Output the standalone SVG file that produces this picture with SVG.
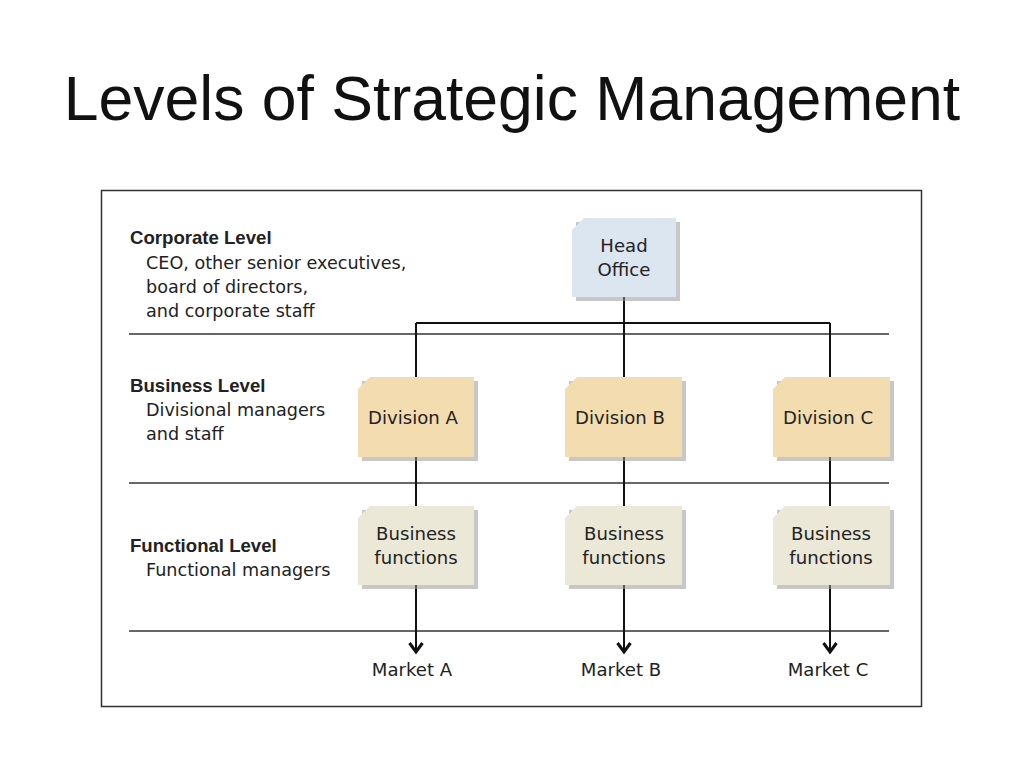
<svg xmlns="http://www.w3.org/2000/svg" width="1024" height="768" viewBox="0 0 1024 768">
<defs>
<style>
.lbl{font-family:"DejaVu Sans","Liberation Sans",Arial,sans-serif;font-size:17.6px;fill:#222}
.b{font-family:"Liberation Sans",Arial,sans-serif;font-weight:bold;font-size:18.6px}
.nt{font-family:"DejaVu Sans","Liberation Sans",Arial,sans-serif;font-size:18.1px;fill:#222;text-anchor:middle}
.ln{stroke:#333;stroke-width:1.5;fill:none}
.cn{stroke:#111;stroke-width:2;fill:none}
.sh{fill:#999;opacity:0.55}
</style>
<marker id="ar" viewBox="0 0 16 16" refX="12" refY="8" markerWidth="16" markerHeight="16" markerUnits="userSpaceOnUse" orient="auto">
<path d="M3,1.5 L12,8 L3,14.5" fill="none" stroke="#111" stroke-width="3"/>
</marker>
</defs>
<rect width="1024" height="768" fill="#fff"/>
<text x="512" y="120" font-family="Liberation Sans,Arial,sans-serif" font-size="62.5" text-anchor="middle" fill="#111">Levels of Strategic Management</text>
<rect x="101.5" y="190.5" width="820" height="516" fill="#fff" stroke="#333" stroke-width="1.5"/>
<g id="dividers">
<line class="ln" x1="129" y1="334" x2="889" y2="334"/>
<line class="ln" x1="129" y1="483" x2="889" y2="483"/>
<line class="ln" x1="129" y1="631" x2="889" y2="631"/>
</g>
<g id="levels">
<text class="lbl b" x="130" y="244">Corporate Level</text>
<text class="lbl" x="146" y="269">CEO, other senior executives,</text>
<text class="lbl" x="146" y="293">board of directors,</text>
<text class="lbl" x="146" y="317">and corporate staff</text>
<text class="lbl b" x="130" y="392">Business Level</text>
<text class="lbl" x="146" y="416">Divisional managers</text>
<text class="lbl" x="146" y="440">and staff</text>
<text class="lbl b" x="130" y="552">Functional Level</text>
<text class="lbl" x="146" y="576">Functional managers</text>
</g>
<g id="connectors">
<path class="cn" d="M624,297 V323 M416,323 H830 M416,323 V377 M624,323 V377 M830,323 V377"/>
<path class="cn" d="M416,457 V506 M624,457 V506 M830,457 V506"/>
<path class="cn" d="M416,585 V652" marker-end="url(#ar)"/>
<path class="cn" d="M624,585 V652" marker-end="url(#ar)"/>
<path class="cn" d="M830,585 V652" marker-end="url(#ar)"/>
</g>
<g id="head-office">
<path class="sh" d="M576,222 H680 V301 H576 Z"/>
<path d="M584,218 H676 V297 H572 V230 Z" fill="#dce6f1"/>
<text class="nt" x="624" y="252">Head</text>
<text class="nt" x="624" y="276">Office</text>
</g>
<g id="division-a">
<path class="sh" d="M362,381 H478 V461 H362 Z"/>
<path d="M370,377 H474 V457 H358 V389 Z" fill="#f3dcb0"/>
<text class="nt" x="413" y="424">Division A</text>
</g>
<g id="division-b">
<path class="sh" d="M569,381 H686 V461 H569 Z"/>
<path d="M577,377 H682 V457 H565 V389 Z" fill="#f3dcb0"/>
<text class="nt" x="620" y="424">Division B</text>
</g>
<g id="division-c">
<path class="sh" d="M777,381 H894 V461 H777 Z"/>
<path d="M785,377 H890 V457 H773 V389 Z" fill="#f3dcb0"/>
<text class="nt" x="828" y="424">Division C</text>
</g>
<g id="functions-a">
<path class="sh" d="M362,510 H478 V589 H362 Z"/>
<path d="M370,506 H474 V585 H358 V518 Z" fill="#ebe8d7"/>
<text class="nt" x="416" y="540">Business</text>
<text class="nt" x="416" y="564">functions</text>
</g>
<g id="functions-b">
<path class="sh" d="M569,510 H686 V589 H569 Z"/>
<path d="M577,506 H682 V585 H565 V518 Z" fill="#ebe8d7"/>
<text class="nt" x="624" y="540">Business</text>
<text class="nt" x="624" y="564">functions</text>
</g>
<g id="functions-c">
<path class="sh" d="M777,510 H894 V589 H777 Z"/>
<path d="M785,506 H890 V585 H773 V518 Z" fill="#ebe8d7"/>
<text class="nt" x="831" y="540">Business</text>
<text class="nt" x="831" y="564">functions</text>
</g>
<g id="markets">
<text class="nt" x="412" y="676">Market A</text>
<text class="nt" x="621" y="676">Market B</text>
<text class="nt" x="828" y="676">Market C</text>
</g>
</svg>
